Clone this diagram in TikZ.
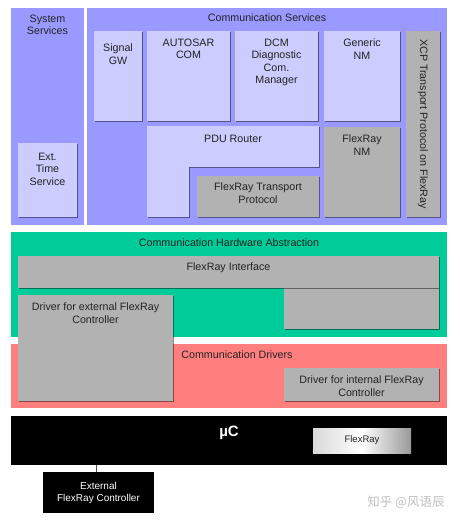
\documentclass[tikz,border=0pt]{standalone}
\usepackage{fontspec}
\setmainfont{Liberation Sans}
\newfontfamily\cjk{Noto Sans CJK SC}
\usepackage{tikz}
\usetikzlibrary{shadows}

\definecolor{panelblue}{RGB}{153,153,255}
\definecolor{lightblue}{RGB}{204,204,255}
\definecolor{boxgray}{RGB}{178,178,178}
\definecolor{hwgreen}{RGB}{0,204,153}
\definecolor{drvred}{RGB}{255,127,127}
\definecolor{txt}{RGB}{35,35,35}

\begin{document}
\begin{tikzpicture}[
		x=1pt, y=-1pt,
		every node/.style={font=\fontsize{10.7}{12.3}\selectfont, text=txt},
		panel/.style={
			rectangle,
			anchor=north west,
			inner sep=0pt,
			outer sep=0pt
		},
		box/.style={
			panel,
			general shadow={shadow xshift=1.2pt, shadow yshift=-1.2pt, fill=black, opacity=0.45}
		},
		light/.style={box, fill=lightblue},
		grey/.style={box, fill=boxgray},
		lbl/.style={anchor=north, inner sep=0pt, align=center, yshift=-8pt}
		]
		
		\useasboundingbox (0,0) rectangle (460,522);
		
		% Layers
		\node[panel, fill=panelblue, minimum width=73pt, minimum height=217pt,
		label={[lbl, yshift=1pt]north:{System\\Services}}] (sys) at (11,8) {};
		\node[panel, fill=panelblue, minimum width=360pt, minimum height=217pt,
		label={[lbl, yshift=2pt]north:{Communication Services}}] (comsrv) at (87,8) {};
		\node[panel, fill=hwgreen, minimum width=436pt, minimum height=105pt,
		label={[lbl, yshift=1pt]north:{Communication Hardware Abstraction}}] (hwabs) at (11,232) {};
		\node[panel, fill=drvred, minimum width=436pt, minimum height=64pt] (comdrv) at (11,344) {};
		\node[panel, fill=black, minimum width=436pt, minimum height=49pt] (muc) at (11,416) {};
		
		% System services
		\node[light, minimum width=59pt, minimum height=74pt,
		label={[lbl, yshift=-2pt]north:{Ext.\\Time\\Service}}] (exttime) at (18,143) {};
		
		% Communication services
		\node[light, minimum width=48pt, minimum height=90pt,
		label={[lbl, yshift=-5pt]north:{Signal\\GW}}] (siggw) at (94,31) {};
		\node[light, minimum width=83pt, minimum height=90pt,
		label={[lbl]north:{AUTOSAR\\COM}}] (com) at (147,31) {};
		\node[light, minimum width=83pt, minimum height=90pt,
		label={[lbl]north:{DCM\\Diagnostic\\Com.\\Manager}}] (dcm) at (235,31) {};
		\node[light, minimum width=76pt, minimum height=90pt,
		label={[lbl]north:{Generic\\NM}}] (gennm) at (324,31) {};
		\node[grey, minimum width=34pt, minimum height=186pt] (xcp) at (406,31) {};
		\node[rotate=-90, inner sep=0pt] (xcptext) at (xcp.center) {XCP Transport Protocol on FlexRay};
		
		\node[light, minimum width=172pt, minimum height=41pt,
		label={[lbl, yshift=-1pt]north:{PDU Router}}] (pdur) at (147,126) {};
		\node[light, minimum width=42pt, minimum height=50pt] (pdurlow) at (147,167) {};
		\node[grey, minimum width=122pt, minimum height=41pt,
		label={[lbl, yshift=1pt]north:{FlexRay Transport\\Protocol}}] (frtp) at (197,176) {};
		\node[grey, minimum width=76pt, minimum height=90pt,
		label={[lbl]north:{FlexRay\\NM}}] (frnm) at (324,127) {};
		
		% Hardware abstraction and drivers
		\node[grey, minimum width=155pt, minimum height=41pt] (frifright) at (284,288) {};
		\node[grey, minimum width=421pt, minimum height=32pt,
		label={[lbl, yshift=1pt]north:{FlexRay Interface}}] (frif) at (18,256) {};
		\node[anchor=center] (drvlabel) at (237,355) {Communication Drivers};
		\node[grey, minimum width=155pt, minimum height=106pt,
		label={[lbl]north:{Driver for external FlexRay\\Controller}}] (extdrv) at (18,295) {};
		\node[grey, minimum width=155pt, minimum height=33pt,
		label={[lbl]north:{Driver for internal FlexRay\\Controller}}] (intdrv) at (284,368) {};
		
		% Microcontroller
		\node[text=white, font=\fontsize{15}{17}\selectfont\bfseries] (muclabel) at (229,433) {\textmu C};
		\node[panel, minimum width=98pt, minimum height=25pt,
		left color=black!15, right color=black!40, middle color=white] (frhw) at (313,428) {};
		\node[font=\fontsize{9.5}{11}\selectfont] (frhwtext) at (frhw.center) {FlexRay};
		\node[panel, fill=black, minimum width=111pt, minimum height=41pt,
		text=white, align=center, font=\fontsize{10}{12}\selectfont] (extctrl) at (43,472) {External\\FlexRay Controller};
		
		\draw[black!70, line width=0.8pt] (muc.south -| 96,0) -- (extctrl.north -| 96,0);
		
		\node[font=\cjk\fontsize{12.5}{14}\selectfont, text=black!25] (mark) at (406,502) {知乎 @风语辰};
	\end{tikzpicture}
\end{document}
